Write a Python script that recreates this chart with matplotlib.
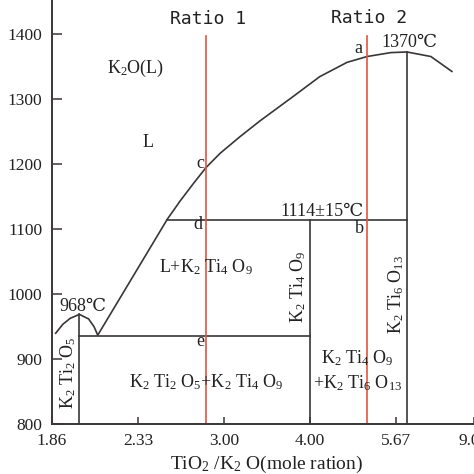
import numpy as np
import matplotlib
matplotlib.use('Agg')
import matplotlib.pyplot as plt

plt.rcParams['font.family'] = ['Liberation Serif', 'DejaVu Serif']
plt.rcParams['mathtext.default'] = 'regular'

# x axis is not linear: tick values sit at (almost) even spacing
tick_vals = [1.86, 2.33, 3.00, 4.00, 5.67, 9.00]
tick_pos = [0, 1, 2, 3, 4, 4.907]
tick_labels = ['1.86', '2.33', '3.00', '4.00', '5.67', '9.00']
y_ticks = [800, 900, 1000, 1100, 1200, 1300, 1400]

# liquidus (composition, temperature)
liq_x = [1.88, 1.92, 1.96, 2.01, 2.06, 2.09, 2.11, 2.56, 2.66, 2.76, 2.86,
         2.97, 3.19, 3.42, 3.80, 4.19, 4.72, 5.11, 5.57, 6.14, 7.16, 8.06]
liq_t = [939, 953, 962, 968, 961, 949, 936, 1115, 1143, 1169, 1194,
         1216, 1242, 1266, 1303, 1334, 1356, 1365, 1371, 1372, 1365, 1342]

# invariant lines
peritectic_t = 1114
peritectic_x = [2.56, 6.14]
eutectic_t = 935
eutectic_x = [2.01, 4.00]

# compounds: composition, top temperature
k2ti2o5 = (2.01, 968)
k2ti4o9 = (4.00, 1114)
k2ti6o13 = (6.14, 1372)

ratio_x = [2.86, 5.11]
ratio_top = 1397


def X(c):
    return np.interp(c, tick_vals, tick_pos)


fig = plt.figure(figsize=(4.74, 4.74), dpi=100)
ax = fig.add_axes([0.1097, 0.1065, 0.907, 0.8935])

line_c = '#3a3636'
red = '#e0553f'
tc = '#222222'

ax.plot(X(liq_x), liq_t, color=line_c, lw=1.2)
ax.plot(X(peritectic_x), [peritectic_t] * 2, color=line_c, lw=1.2)
ax.plot(X(eutectic_x), [eutectic_t] * 2, color=line_c, lw=1.2)
for cx, top in [k2ti2o5, k2ti4o9, k2ti6o13]:
    ax.plot([X(cx)] * 2, [800, top], color=line_c, lw=1.2)
for rx in ratio_x:
    ax.plot([X(rx)] * 2, [800, ratio_top], color=red, lw=1.2)

ax.set_xlim(0, 5)
ax.set_ylim(800, 1452)
ax.set_xticks(tick_pos)
ax.set_xticklabels(tick_labels, fontsize=12.5)
ax.set_yticks(y_ticks)
ax.set_yticklabels([str(v) for v in y_ticks], fontsize=12.5)
ax.tick_params(axis='y', direction='in', length=7, width=1.1, pad=7, colors=line_c, labelcolor=tc)
ax.tick_params(axis='x', direction='in', length=5, width=1.1, pad=7, colors=line_c, labelcolor=tc)
for s in ['top', 'right']:
    ax.spines[s].set_visible(False)
for s in ['left', 'bottom']:
    ax.spines[s].set_color(line_c)
    ax.spines[s].set_linewidth(1.4)

ax.set_xlabel('TiO$_2$ /K$_2$ O(mole ration)', fontsize=14, labelpad=3, color=tc)

mono = 'DejaVu Sans Mono'
ax.text(1.81, 1422, 'Ratio 1', fontsize=13, family=mono, ha='center', va='center', color=tc)
ax.text(3.69, 1425, 'Ratio 2', fontsize=13, family=mono, ha='center', va='center', color=tc)

fs = 13
labels = [
    (3.56, 1378, 'a', 0),
    (4.16, 1386, '1370℃', 0),
    (0.97, 1346, 'K$_2$O(L)', 0),
    (1.12, 1232, 'L', 0),
    (1.72, 1201, 'c', 0),
    (1.70, 1107, 'd', 0),
    (3.14, 1127, '1114±15℃', 0),
    (3.58, 1100, 'b', 0),
    (1.79, 1040, 'L+K$_2$ Ti$_4$ O$_9$', 0),
    (2.86, 1011, 'K$_2$ Ti$_4$ O$_9$', 90),
    (4.00, 998, 'K$_2$ Ti$_6$ O$_{13}$', 90),
    (0.36, 980, '968℃', 0),
    (0.19, 879, 'K$_2$ Ti$_2$ O$_5$', 90),
    (1.72, 926, 'e', 0),
    (1.80, 864, 'K$_2$ Ti$_2$ O$_5$+K$_2$ Ti$_4$ O$_9$', 0),
    (3.55, 901, 'K$_2$ Ti$_4$ O$_9$', 0),
    (3.55, 862, '+K$_2$ Ti$_6$ O$_{13}$', 0),
]
for px, t, s, rot in labels:
    ax.text(px, t, s, fontsize=fs, ha='center', va='center', rotation=rot, color=tc)

fig.savefig('out.png', dpi=100)
